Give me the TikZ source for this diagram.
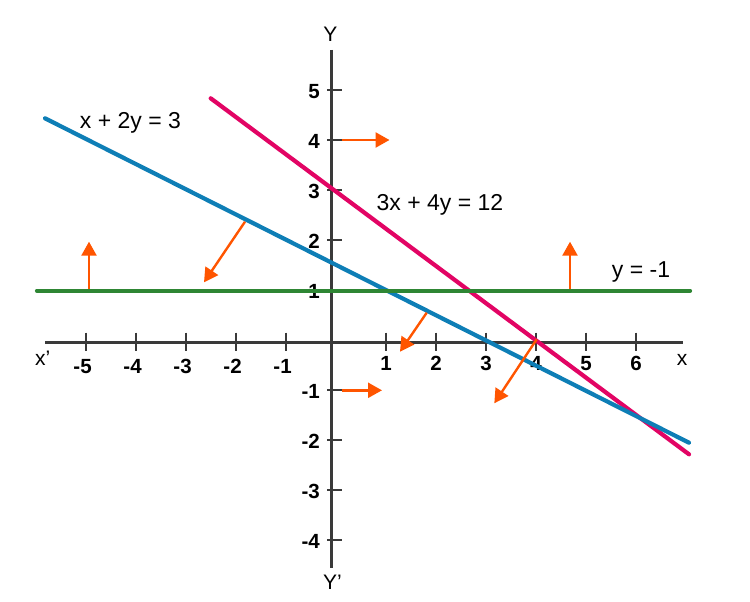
\documentclass[tikz,border=0pt]{standalone}
\usepackage{fontspec}
\setmainfont{Liberation Sans}
\usetikzlibrary{arrows.meta}
\definecolor{axisgray}{RGB}{58,58,58}
\definecolor{lineblue}{RGB}{14,126,182}
\definecolor{linepink}{RGB}{226,4,100}
\definecolor{linegreen}{RGB}{46,134,52}
\definecolor{arroworange}{RGB}{255,85,0}
\tikzset{
  axisline/.style={draw=axisgray, line width=3.2pt},
  tickmark/.style={draw=axisgray, line width=2.8pt},
  graphline/.style={line width=4.2pt, line cap=round},
  region/.style={draw=arroworange, line width=2.4pt, -{Triangle[length=14pt,width=15pt]}},
  ticklab/.style={font=\fontsize{20.5}{24}\selectfont\bfseries, inner sep=0pt},
  eqlab/.style={font=\fontsize{23}{27}\selectfont, inner sep=0pt},
  axislab/.style={font=\fontsize{21}{25}\selectfont, inner sep=0pt},
}
\begin{document}
\begin{tikzpicture}[x=1pt,y=-1pt]
\useasboundingbox[fill=white] (0,0) rectangle (750,602);
% axes
\coordinate (xl) at (45,342.5);
\coordinate (xr) at (683,342.5);
\coordinate (yt) at (331.5,50);
\coordinate (yb) at (331.5,568);
\draw[axisline] (xl) -- (xr);
\draw[axisline] (yt) -- (yb);
% x ticks
\foreach \i in {1,...,5} {
  \draw[tickmark] ({336-50*\i},332.5) -- ++(0,18.5);
  \node[ticklab, anchor=base] (xn\i) at ({336-50*\i},373.5) {\llap{-}\i};
}
\foreach \i in {1,...,6} {
  \draw[tickmark] ({336+50*\i},332.5) -- ++(0,18.5);
  \node[ticklab, anchor=base] (xp\i) at ({336+50*\i},370) {\i};
}
% y ticks
\foreach \j in {1,...,5} {
  \draw[tickmark] (327,{340-50*\j}) -- (342,{340-50*\j});
  \node[ticklab, anchor=base east] (yp\j) at (320,{348.5-50*\j}) {\j};
}
\foreach \j in {1,...,4} {
  \draw[tickmark] (327,{340+50*\j}) -- (342,{340+50*\j});
  \node[ticklab, anchor=base east] (yn\j) at (320,{348.5+50*\j}) {-\j};
}
% axis labels
\node[axislab, anchor=base] (Ylab) at (330.5,41.5) {Y};
\node[axislab, anchor=base west] (Yplab) at (323,589) {Y’};
\node[axislab, anchor=base] (xlab) at (682,365) {x};
\node[axislab, anchor=base west] (xplab) at (35,365) {x’};
% lines
\coordinate (p1) at (210.7,98.3);
\coordinate (p2) at (689,454.3);
\coordinate (b1) at (45,118.3);
\coordinate (b2) at (689,442.7);
\coordinate (g1) at (37,290.7);
\coordinate (g2) at (690,290.7);
\draw[graphline, draw=linepink] (p1) -- (p2);
\draw[graphline, draw=lineblue] (b1) -- (b2);
\draw[graphline, draw=linegreen] (g1) -- (g2);
% equation labels
\node[eqlab, anchor=base] (eqb) at (130.5,128.3) {x + 2y = 3};
\node[eqlab, anchor=base] (eqp) at (440,210) {3x + 4y = 12};
\node[eqlab, anchor=base] (eqg) at (641,277) {y = -1};
% region arrows
\coordinate (a1s) at (341.7,140); \coordinate (a1e) at (389.5,140);
\coordinate (a2s) at (341.7,390.3); \coordinate (a2e) at (382,390.3);
\coordinate (a3s) at (89,289); \coordinate (a3e) at (89,241.7);
\coordinate (a4s) at (570,289); \coordinate (a4e) at (570,241.7);
\coordinate (a5s) at (245,221.7); \coordinate (a5e) at (204,282.3);
\coordinate (a6s) at (426.7,312.7); \coordinate (a6e) at (400,351.7);
\coordinate (a7s) at (536.7,339.3); \coordinate (a7e) at (494.3,403.3);
\foreach \k in {1,...,7} \draw[region] (a\k s) -- (a\k e);
\end{tikzpicture}
\end{document}
